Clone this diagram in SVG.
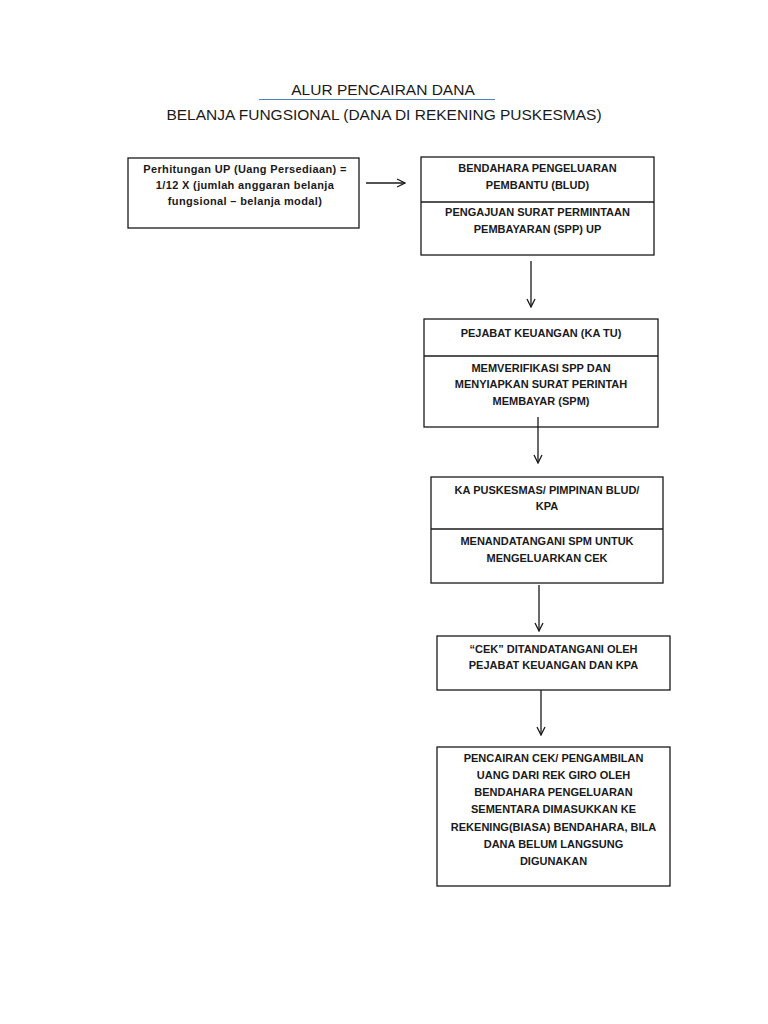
<svg xmlns="http://www.w3.org/2000/svg" width="768" height="1024" viewBox="0 0 768 1024">
<defs>
<style>
.bg{fill:#ffffff}
.box{fill:#ffffff;stroke:#1a1a1a;stroke-width:1.3}
.div{stroke:#1a1a1a;stroke-width:1.3}
.t{font-family:"Liberation Sans",Arial,sans-serif;font-size:11px;font-weight:bold;fill:#1a1a1a;text-anchor:middle}
.tm{letter-spacing:0.35px}
.title{font-family:"Liberation Sans",Arial,sans-serif;font-size:15.5px;fill:#1a1a1a;text-anchor:middle}
.conn{stroke:#1a1a1a;stroke-width:1.3;fill:none}
</style>
<marker id="arr" viewBox="0 0 10 10" refX="9" refY="5" markerWidth="10" markerHeight="10" markerUnits="userSpaceOnUse" orient="auto">
<path d="M1,1 L9,5 L1,9" fill="none" stroke="#1a1a1a" stroke-width="1.3"/>
</marker>
</defs>
<rect class="bg" x="0" y="0" width="768" height="1024"/>
<g id="title">
<text class="title" x="383" y="95">ALUR PENCAIRAN DANA</text>
<line x1="259" y1="99.5" x2="495" y2="99.5" stroke="#4f81bd" stroke-width="1"/>
<text class="title" x="384" y="120">BELANJA FUNGSIONAL (DANA DI REKENING PUSKESMAS)</text>
</g>
<g id="node-up">
<rect class="box" x="128" y="158" width="231" height="70"/>
<text class="t tm" x="245" y="173">Perhitungan UP (Uang Persediaan) =</text>
<text class="t tm" x="245" y="189">1/12 X (jumlah anggaran belanja</text>
<text class="t tm" x="245" y="205">fungsional – belanja modal)</text>
</g>
<g id="node-bendahara">
<rect class="box" x="421" y="157" width="233" height="98"/>
<line class="div" x1="421" y1="202" x2="654" y2="202"/>
<text class="t" x="537.5" y="172">BENDAHARA PENGELUARAN</text>
<text class="t" x="537.5" y="189">PEMBANTU (BLUD)</text>
<text class="t" x="537.5" y="216">PENGAJUAN SURAT PERMINTAAN</text>
<text class="t" x="537.5" y="233">PEMBAYARAN (SPP) UP</text>
</g>
<g id="node-pejabat">
<rect class="box" x="424" y="319" width="234" height="108"/>
<line class="div" x1="424" y1="356" x2="658" y2="356"/>
<text class="t" x="541" y="337">PEJABAT KEUANGAN (KA TU)</text>
<text class="t" x="541" y="372">MEMVERIFIKASI SPP DAN</text>
<text class="t" x="541" y="388">MENYIAPKAN SURAT PERINTAH</text>
<text class="t" x="541" y="405">MEMBAYAR (SPM)</text>
</g>
<g id="node-kapuskesmas">
<rect class="box" x="431" y="477" width="232" height="106"/>
<line class="div" x1="431" y1="529" x2="663" y2="529"/>
<text class="t" x="547" y="494">KA PUSKESMAS/ PIMPINAN BLUD/</text>
<text class="t" x="547" y="510">KPA</text>
<text class="t" x="547" y="545">MENANDATANGANI SPM UNTUK</text>
<text class="t" x="547" y="562">MENGELUARKAN CEK</text>
</g>
<g id="node-cek">
<rect class="box" x="437" y="636" width="233" height="54"/>
<text class="t" x="553.5" y="653">“CEK” DITANDATANGANI OLEH</text>
<text class="t" x="553.5" y="669">PEJABAT KEUANGAN DAN KPA</text>
</g>
<g id="node-pencairan">
<rect class="box" x="437" y="747" width="233" height="139"/>
<text class="t" x="553.5" y="762">PENCAIRAN CEK/ PENGAMBILAN</text>
<text class="t" x="553.5" y="779">UANG DARI REK GIRO OLEH</text>
<text class="t" x="553.5" y="796">BENDAHARA PENGELUARAN</text>
<text class="t" x="553.5" y="813">SEMENTARA DIMASUKKAN KE</text>
<text class="t" x="553.5" y="831">REKENING(BIASA) BENDAHARA, BILA</text>
<text class="t" x="553.5" y="848">DANA BELUM LANGSUNG</text>
<text class="t" x="553.5" y="865">DIGUNAKAN</text>
</g>
<g id="connectors">
<line class="conn" x1="366" y1="183" x2="405" y2="183" marker-end="url(#arr)"/>
<line class="conn" x1="531" y1="261" x2="531" y2="307" marker-end="url(#arr)"/>
<line class="conn" x1="538" y1="417" x2="538" y2="463" marker-end="url(#arr)"/>
<line class="conn" x1="539" y1="585" x2="539" y2="631" marker-end="url(#arr)"/>
<line class="conn" x1="541" y1="690" x2="541" y2="735" marker-end="url(#arr)"/>
</g>
</svg>
